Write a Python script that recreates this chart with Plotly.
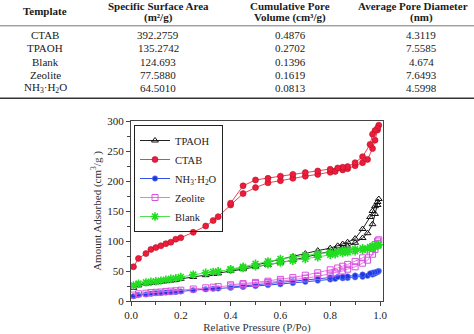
import plotly.graph_objects as go

# ---------------- table data ----------------
tbl_header1 = ["Template", "Specific Surface Area", "Cumulative Pore", "Average Pore Diameter"]
tbl_header2 = ["", "(m²/g)", "Volume (cm³/g)", "(nm)"]
tbl_template = ["CTAB", "TPAOH", "Blank", "Zeolite", "NH<sub>3</sub>·H<sub>2</sub>O"]
tbl_area = ["392.2759", "135.2742", "124.693", "77.5880", "64.5010"]
tbl_volume = ["0.4876", "0.2702", "0.1396", "0.1619", "0.0813"]
tbl_diameter = ["4.3119", "7.5585", "4.674", "7.6493", "4.5998"]

# ---------------- isotherm data ----------------
p_ads = [0.01, 0.03, 0.06, 0.08, 0.10, 0.12, 0.14, 0.16, 0.18, 0.20, 0.25, 0.30,
         0.33, 0.35, 0.40, 0.45, 0.50, 0.55, 0.60, 0.65, 0.70, 0.75, 0.80, 0.82,
         0.85, 0.87, 0.90, 0.93, 0.95, 0.97, 0.98, 0.99]
p_des = [0.995, 0.99, 0.98, 0.97, 0.96, 0.93, 0.90, 0.87, 0.85, 0.83, 0.80, 0.75,
         0.70, 0.65, 0.60, 0.55, 0.50, 0.45, 0.40]

tpaoh_ads = [22, 26, 29, 30, 31, 32, 33, 34, 35, 37, 40, 43, 45, 46, 50, 53, 57, 60,
             64, 68, 73, 77, 82, 85, 88, 91, 97, 105, 113, 128, 145, 160]
tpaoh_des = [170, 165, 158, 150, 140, 120, 104, 98, 95, 92, 88, 84, 79, 74, 69, 64, 59, 55, 52]

ctab_ads = [57, 71, 79, 86, 89, 92, 95.5, 98, 103, 105.5, 114.5, 125, 134, 140.5, 160,
            179, 189, 197, 200.5, 204.5, 208, 211, 214.5, 216, 218.5, 220.5, 225.5,
            230.5, 236, 254, 268, 285]
ctab_des = [293, 288, 284, 278, 261, 240.5, 230.5, 224, 223, 221.7, 219.5, 216.7, 214,
            211, 208, 204.5, 201.7, 192, 163]

nh3_ads = [8, 10, 11, 12, 13, 13.5, 14, 14.5, 15, 16, 18, 19.5, 20.5, 21, 22, 23.5, 25,
           26.5, 28, 30, 32, 34, 36, 37, 38, 38.5, 39.5, 40.5, 42, 44, 46, 48]
nh3_des = [50, 49, 48, 47, 46, 44, 42.5, 41, 40.5, 40, 39, 37, 35, 33, 31, 29, 27, 25, 23]

zeo_ads = [10, 12, 13, 14, 14.5, 15, 16, 16.5, 17, 18, 20, 22, 23, 24, 25, 27, 29, 31,
           33, 35, 38, 41, 45, 47, 50, 53, 57, 63, 68, 78, 86, 96]
zeo_des = [102, 100, 94, 88, 82, 72, 66, 61, 58, 55, 52, 47, 43, 39, 36, 33, 31, 29, 27]

blank_ads = [26, 29, 31, 32, 33, 34, 35.5, 37, 38, 40, 44, 47, 48.5, 49.5, 52, 55, 58,
             61, 64, 67, 70, 73, 77, 78, 80, 81, 83, 85, 87, 89, 90, 92]
blank_des = [94, 93, 92, 91, 90, 88, 86.5, 85, 84, 83, 81, 79, 76, 73, 70, 66, 62, 57, 53]

series_names = ["TPAOH", "CTAB", "NH<sub>3</sub>·H<sub>2</sub>O", "Zeolite", "Blank"]
series_ads = [tpaoh_ads, ctab_ads, nh3_ads, zeo_ads, blank_ads]
series_des = [tpaoh_des, ctab_des, nh3_des, zeo_des, blank_des]

# ---------------- styles ----------------
styles = [
    dict(line=dict(color="#222222", width=1),
         marker=dict(symbol="triangle-up-open", size=6, color="#111111", line=dict(width=1))),
    dict(line=dict(color="#f04050", width=1),
         marker=dict(symbol="circle", size=6, color="#ee1c3a", line=dict(color="#b0102a", width=0.6))),
    dict(line=dict(color="#3050e8", width=1),
         marker=dict(symbol="circle", size=5.5, color="#2036e0", line=dict(color="#6a88ff", width=0.6))),
    dict(line=dict(color="#e878e8", width=1),
         marker=dict(symbol="square-open", size=6, color="#d850e0", line=dict(width=1))),
    dict(line=dict(color="#50e050", width=1),
         marker=dict(symbol="asterisk-open", size=7, color="#22dd22", line=dict(color="#22dd22", width=1.6))),
]

W, H = 474, 334
L, R, T, B = 131, 383, 121, 301  # plot area in pixels

fig = go.Figure()
for name, ads, des, st in zip(series_names, series_ads, series_des, styles):
    fig.add_trace(go.Scatter(
        x=p_ads + p_des, y=ads + des, name=name, mode="lines+markers",
        line=st["line"], marker=st["marker"],
    ))

def px_x(px):
    return (px - L) / (R - L)

def px_y(py):
    return (B - py) / (B - T)

serif = "Liberation Serif"
annotations = []
col_x = [45, 158, 290, 421]
head1_x = [45, 158, 290, 413]
# header
for cx, hx, h1, h2 in zip(col_x, head1_x, tbl_header1, tbl_header2):
    if h2 == "":
        annotations.append(dict(x=px_x(cx), y=px_y(11), text="<b>%s</b>" % h1))
    else:
        annotations.append(dict(x=px_x(hx), y=px_y(5.5), text="<b>%s</b>" % h1))
        annotations.append(dict(x=px_x(cx), y=px_y(17.5), text="<b>%s</b>" % h2))
row_y = [35, 48.3, 61.7, 75, 88.3]
for i, ry in enumerate(row_y):
    for cx, col in zip(col_x, [tbl_template, tbl_area, tbl_volume, tbl_diameter]):
        annotations.append(dict(x=px_x(cx), y=px_y(ry), text=col[i]))
for a in annotations:
    a.update(xref="paper", yref="paper", showarrow=False, xanchor="center", yanchor="middle",
             borderpad=0,
             font=dict(family=serif, size=11, color="#1a1a1a"))

shapes = [
    dict(type="line", xref="paper", yref="paper", x0=px_x(0), x1=px_x(W), y0=px_y(25.8), y1=px_y(25.8),
         line=dict(color="#777777", width=1)),
    dict(type="line", xref="paper", yref="paper", x0=px_x(0), x1=px_x(W), y0=px_y(98.3), y1=px_y(98.3),
         line=dict(color="#333333", width=1.6)),
]

axis_common = dict(
    showline=True, mirror=True, linecolor="#444444", linewidth=1.3,
    ticks="outside", ticklen=4, tickwidth=1, tickcolor="#444444",
    showgrid=False, zeroline=False, automargin=False,
    tickfont=dict(family=serif, size=11, color="#222222"),
)

fig.update_layout(
    template="none",
    width=W, height=H,
    margin=dict(l=L, r=W - R, t=T, b=H - B, pad=0),
    paper_bgcolor="white", plot_bgcolor="white",
    annotations=annotations, shapes=shapes,
    legend=dict(x=px_x(134), y=px_y(125), xanchor="left", yanchor="top",
                bordercolor="#222222", borderwidth=1, bgcolor="rgba(255,255,255,0)",
                font=dict(family=serif, size=10.5, color="#222222"),
                tracegroupgap=0, itemwidth=30),
    xaxis=dict(range=[0, 1.012], tickmode="array", tickvals=[0, 0.2, 0.4, 0.6, 0.8, 1.0],
               ticktext=["0.0", "0.2", "0.4", "0.6", "0.8", "1.0"],
               minor=dict(tickvals=[0.1, 0.3, 0.5, 0.7, 0.9], ticks="outside", ticklen=2.5,
                          tickcolor="#444444"),
               title=dict(text="Relative Pressure (P/Po)", standoff=4,
                          font=dict(family=serif, size=11, color="#333333")),
               **axis_common),
    yaxis=dict(range=[0, 300], tickmode="array", tickvals=[0, 50, 100, 150, 200, 250, 300],
               minor=dict(tickvals=[25, 75, 125, 175, 225, 275], ticks="outside", ticklen=2.5,
                          tickcolor="#444444"),
               title=dict(text="Amount Adsorbed (cm<sup>3</sup>/g )", standoff=3,
                          font=dict(family=serif, size=11, color="#333333")),
               **axis_common),
    showlegend=True,
)

fig.write_html("out.html")
